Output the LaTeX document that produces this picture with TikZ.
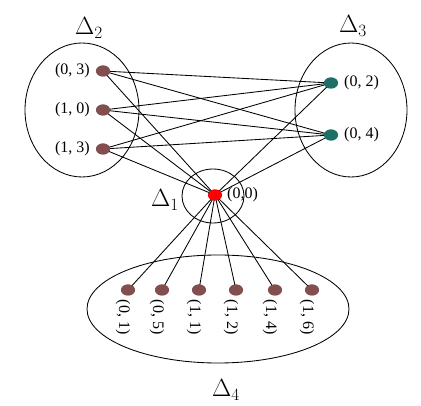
\documentclass[tikz,border=0pt]{standalone}
\usepackage{fontspec}
\setmainfont{Liberation Serif}
\usetikzlibrary{shapes.geometric}
\definecolor{dotbrown}{RGB}{130,78,78}
\definecolor{dotteal}{RGB}{28,112,102}
\tikzstyle{every picture} = [x=1pt, y=-1pt, line width=0.85pt]
\tikzstyle{vertex} = [ellipse, minimum width=14pt, minimum height=11pt, inner sep=0pt]
\tikzstyle{every label} = [font=\fontsize{16}{18}\selectfont, label distance=2pt]
\tikzstyle{setname} = [font=\fontsize{26}{28}\selectfont]

\begin{document}
\begin{tikzpicture}
			\useasboundingbox (0,0) rectangle (421,406);
			% the four sets
			\draw (82,110) ellipse [x radius=57pt, y radius=67pt];
			\draw (351,110) ellipse [x radius=56pt, y radius=67pt];
			\draw (213,196) ellipse [x radius=31pt, y radius=27pt];
			\draw (218,309) ellipse [x radius=131pt, y radius=54pt];
			\node (name 2) [setname] at (89,28) {$\Delta_2$};
			\node (name 3) [setname] at (353,26) {$\Delta_3$};
			\node (name 1) [setname] at (165,200) {$\Delta_1$};
			\node (name 4) [setname] at (226,390) {$\Delta_4$};
			% vertices
			\node (v00) [vertex, fill=red, label={[label distance=1pt]right:(0,0)}] at (215,195) {};
			\node (v03) [vertex, fill=dotbrown, label={left:(0, 3)}] at (103,71) {};
			\node (v10) [vertex, fill=dotbrown, label={left:(1, 0)}] at (103,110) {};
			\node (v13) [vertex, fill=dotbrown, label={left:(1, 3)}] at (103,149) {};
			\node (v02) [vertex, fill=dotteal, label={right:(0, 2)}] at (331,83) {};
			\node (v04) [vertex, fill=dotteal, label={right:(0, 4)}] at (331,135) {};
			\node (v01) [vertex, fill=dotbrown, label={[rotate=-90, anchor=west, label distance=5pt]below:(0, 1)}] at (128,290) {};
			\node (v05) [vertex, fill=dotbrown, label={[rotate=-90, anchor=west, label distance=5pt]below:(0, 5)}] at (162,290) {};
			\node (v11) [vertex, fill=dotbrown, label={[rotate=-90, anchor=west, label distance=5pt]below:(1, 1)}] at (199,290) {};
			\node (v12) [vertex, fill=dotbrown, label={[rotate=-90, anchor=west, label distance=5pt]below:(1, 2)}] at (236,290) {};
			\node (v14) [vertex, fill=dotbrown, label={[rotate=-90, anchor=west, label distance=5pt]below:(1, 4)}] at (275,290) {};
			\node (v16) [vertex, fill=dotbrown, label={[rotate=-90, anchor=west, label distance=5pt]below:(1, 6)}] at (312,290) {};
			% edges
			\path (v03.center) edge (v02.center) edge (v04.center) edge (v00.center);
			\path (v10.center) edge (v02.center) edge (v04.center) edge (v00.center);
			\path (v13.center) edge (v02.center) edge (v04.center) edge (v00.center);
			\path (v02.center) edge (v00.center);
			\path (v04.center) edge (v00.center);
			\path (v00.center) edge (v01.center) edge (v05.center) edge (v11.center) edge (v12.center) edge (v14.center) edge (v16.center);
			% dots on top of the edges
			\foreach \v/\c in {v00/red, v03/dotbrown, v10/dotbrown, v13/dotbrown, v02/dotteal, v04/dotteal, v01/dotbrown, v05/dotbrown, v11/dotbrown, v12/dotbrown, v14/dotbrown, v16/dotbrown}
				\fill [\c] (\v.center) ellipse [x radius=7pt, y radius=5.5pt];
		\end{tikzpicture}
\end{document}
